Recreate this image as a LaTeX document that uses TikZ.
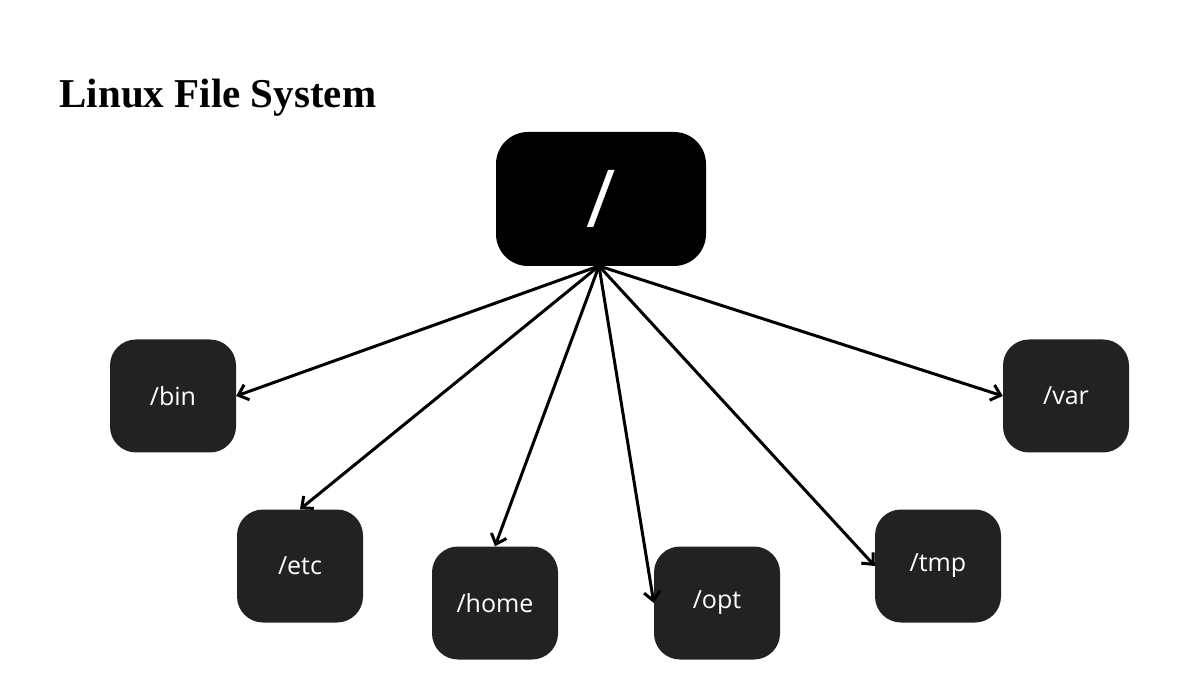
\documentclass[tikz,border=0pt]{standalone}
\usepackage{fontspec}
\setmainfont{Liberation Serif}
\newfontfamily\nodefont{Open Sans}
\usetikzlibrary{arrows.meta}
\definecolor{boxc}{HTML}{222222}
\begin{document}
\begin{tikzpicture}[x=1pt,y=-1pt,
  dirbox/.style={fill=boxc,rounded corners=26pt,minimum width=126pt,minimum height=113pt,text=white,font=\nodefont\fontsize{25}{30}\selectfont,inner sep=0pt},
  conn/.style={line width=3pt,-{Straight Barb[length=9pt,width=16pt,line width=3pt]}}]
\useasboundingbox (0,0) rectangle (1200,700);
\node[anchor=base west,font=\bfseries\fontsize{41}{48}\selectfont] (title) at (56,108) {Linux File System};
\node[fill=black,rounded corners=32pt,minimum width=210pt,minimum height=134pt,text=white,font=\nodefont\fontsize{80}{90}\selectfont,inner sep=0pt] (root) at (601,199) {/};
\node[dirbox] (bin) at (173,396) {/bin};
\node[dirbox] (etc) at (300,566) {/etc};
\node[dirbox] (home) at (495,603) {/home};
\node[dirbox] (opt) at (717,603) {/opt};
\node[dirbox] (tmp) at (938,566) {/tmp};
\node[dirbox] (var) at (1066,396) {/var};
\coordinate (src) at (599,266);
\draw[conn] (src) -- (bin.east);
\draw[conn] (src) -- (etc.north);
\draw[conn] (src) -- (home.north);
\draw[conn] (src) -- (opt.west);
\draw[conn] (src) -- (tmp.west);
\draw[conn] (src) -- (var.west);
\end{tikzpicture}
\end{document}
